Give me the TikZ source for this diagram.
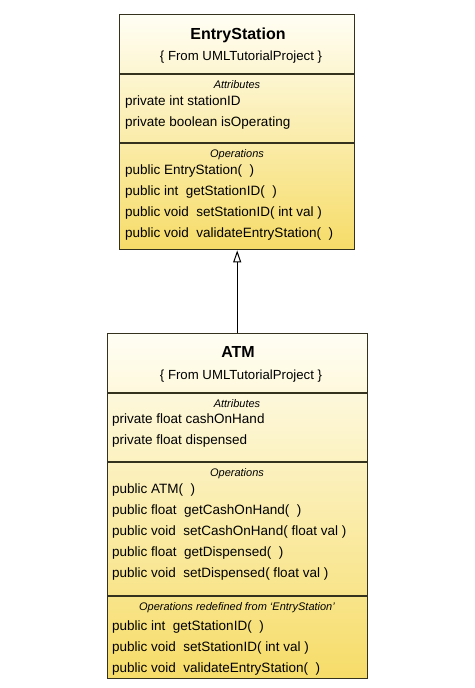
\documentclass[tikz,border=0pt]{standalone}
\usepackage{fontspec}
\setmainfont{Liberation Sans}
\usetikzlibrary{arrows.meta}
\definecolor{umlborder}{HTML}{34321C}
\definecolor{umltop}{HTML}{FFFEF4}
\definecolor{umlmid}{HTML}{FCF1C4}
\definecolor{umlbot}{HTML}{F6DC68}
\tikzset{
  x=1pt, y=-1pt,
  classbox/.style={draw=umlborder, line width=1.4pt, anchor=north west, inner sep=0pt,
    top color=umltop, middle color=umlmid, bottom color=umlbot, shading=axis},
  divider/.style={draw=umlborder, line width=1.2pt},
  title/.style={anchor=base, inner sep=0pt, font=\fontsize{16}{18}\selectfont\bfseries},
  origin/.style={anchor=base, inner sep=0pt, font=\fontsize{13.2}{15}\selectfont},
  section/.style={anchor=base, inner sep=0pt, font=\fontsize{11}{13}\selectfont\itshape},
  member/.style={anchor=base west, inner sep=0pt, font=\fontsize{13.5}{15}\selectfont},
  gen/.style={draw=black, line width=1pt, -{Triangle[open, width=8pt, length=12pt, line width=1pt]}}
}
\begin{document}
\begin{tikzpicture}
\useasboundingbox (0,0) rectangle (474,688);
\fill[white] (0,0) rectangle (474,688);
% EntryStation
\node[classbox, minimum width=235pt, minimum height=235pt] (es) at (119,14) {};
\draw[divider] (119,74) -- (354,74);
\draw[divider] (119,143) -- (354,143);
\node[title] (estitle) at (238,39) {EntryStation};
\node[origin] (esfrom) at (241,60) {\{ From UMLTutorialProject \}};
\node[section] (esattr) at (237,88) {Attributes};
\node[member] (esa1) at (125,105) {private int stationID};
\node[member] (esa2) at (125,126) {private boolean isOperating};
\node[section] (esops) at (237,157) {Operations};
\node[member] (eso1) at (125,174) {public EntryStation(\ \ )};
\node[member] (eso2) at (125,195) {public int\ \ getStationID(\ \ )};
\node[member] (eso3) at (125,216) {public void\ \ setStationID( int val )};
\node[member] (eso4) at (125,237) {public void\ \ validateEntryStation(\ \ )};
% ATM
\node[classbox, minimum width=260pt, minimum height=345pt] (atm) at (107,333) {};
\draw[divider] (107,393) -- (367,393);
\draw[divider] (107,462) -- (367,462);
\draw[divider] (107,596) -- (367,596);
\node[title] (atmtitle) at (238,357) {ATM};
\node[origin] (atmfrom) at (241,379) {\{ From UMLTutorialProject \}};
\node[section] (atmattr) at (237,407) {Attributes};
\node[member] (atma1) at (112,423) {private float cashOnHand};
\node[member] (atma2) at (112,444) {private float dispensed};
\node[section] (atmops) at (237,476) {Operations};
\node[member] (atmo1) at (112,493) {public ATM(\ \ )};
\node[member] (atmo2) at (112,514) {public float\ \ getCashOnHand(\ \ )};
\node[member] (atmo3) at (112,535) {public void\ \ setCashOnHand( float val )};
\node[member] (atmo4) at (112,556) {public float\ \ getDispensed(\ \ )};
\node[member] (atmo5) at (112,577) {public void\ \ setDispensed( float val )};
\node[section] (atmred) at (237,610) {Operations redefined from `EntryStation'};
\node[member] (atmr1) at (112,630) {public int\ \ getStationID(\ \ )};
\node[member] (atmr2) at (112,651) {public void\ \ setStationID( int val )};
\node[member] (atmr3) at (112,672) {public void\ \ validateEntryStation(\ \ )};
% generalization
\draw[gen] (atm.north -| es.south) -- (es.south);
\end{tikzpicture}
\end{document}
